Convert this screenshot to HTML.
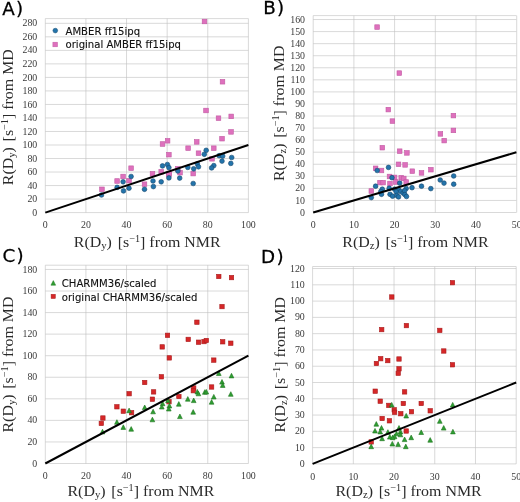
<!DOCTYPE html>
<html><head><meta charset="utf-8"><title>Figure</title>
<style>
html,body{margin:0;padding:0;background:#fff}
svg{display:block}
.tk{font-family:"Liberation Serif","DejaVu Serif",serif;font-size:9.9px;fill:#3a3a3a}
.al{font-family:"Liberation Serif","DejaVu Serif",serif;font-size:14.8px;fill:#2a2a2a}
.sub{font-size:10px}
.sup{font-size:9.5px}
.pl{font-family:"DejaVu Sans","Liberation Sans",sans-serif;font-size:18.3px;fill:#000;stroke:#000;stroke-width:0.28px;letter-spacing:1.3px}
.lg{font-family:"DejaVu Sans","Liberation Sans",sans-serif;font-size:10.1px;fill:#111;stroke:#111;stroke-width:0.12px}
</style></head><body>
<svg width="520" height="502" viewBox="0 0 520 502">
<rect width="520" height="502" fill="#fff"/>
<path d="M45.3 212.60H248.4M45.3 199.08H248.4M45.3 185.56H248.4M45.3 172.04H248.4M45.3 158.52H248.4M45.3 145.00H248.4M45.3 131.48H248.4M45.3 117.96H248.4M45.3 104.44H248.4M45.3 90.92H248.4M45.3 77.40H248.4M45.3 63.88H248.4M45.3 50.36H248.4M45.3 36.84H248.4M45.3 23.32H248.4M45.30 18.6V212.6M85.92 18.6V212.6M126.54 18.6V212.6M167.16 18.6V212.6M207.78 18.6V212.6M248.40 18.6V212.6M45.3 18.6H248.4" stroke="#c0c0c0" stroke-width="0.6" fill="none"/>
<g class="tk" text-anchor="end">
<text x="37.3" y="215.70">0</text>
<text x="37.3" y="202.18">20</text>
<text x="37.3" y="188.66">40</text>
<text x="37.3" y="175.14">60</text>
<text x="37.3" y="161.62">80</text>
<text x="37.3" y="148.10">100</text>
<text x="37.3" y="134.58">120</text>
<text x="37.3" y="121.06">140</text>
<text x="37.3" y="107.54">160</text>
<text x="37.3" y="94.02">180</text>
<text x="37.3" y="80.50">200</text>
<text x="37.3" y="66.98">220</text>
<text x="37.3" y="53.46">240</text>
<text x="37.3" y="39.94">260</text>
<text x="37.3" y="26.42">280</text>
</g>
<g class="tk" text-anchor="middle">
<text x="45.30" y="227.90">0</text>
<text x="85.92" y="227.90">20</text>
<text x="126.54" y="227.90">40</text>
<text x="167.16" y="227.90">60</text>
<text x="207.78" y="227.90">80</text>
<text x="248.40" y="227.90">100</text>
</g>
<g fill="#de70bd" stroke="#c25aa2" stroke-width="0.6">
<rect x="99.65" y="187.00" width="4.6" height="4.6"/>
<rect x="114.80" y="178.70" width="4.6" height="4.6"/>
<rect x="120.80" y="174.20" width="4.6" height="4.6"/>
<rect x="126.70" y="178.40" width="4.6" height="4.6"/>
<rect x="128.80" y="165.90" width="4.6" height="4.6"/>
<rect x="142.20" y="181.90" width="4.6" height="4.6"/>
<rect x="150.20" y="171.50" width="4.6" height="4.6"/>
<rect x="158.90" y="169.50" width="4.6" height="4.6"/>
<rect x="160.20" y="141.70" width="4.6" height="4.6"/>
<rect x="165.30" y="138.50" width="4.6" height="4.6"/>
<rect x="166.60" y="152.40" width="4.6" height="4.6"/>
<rect x="166.60" y="172.30" width="4.6" height="4.6"/>
<rect x="202.20" y="19.20" width="4.6" height="4.6"/>
<rect x="220.20" y="79.45" width="4.6" height="4.6"/>
<rect x="203.70" y="108.20" width="4.6" height="4.6"/>
<rect x="216.20" y="115.90" width="4.6" height="4.6"/>
<rect x="228.90" y="114.10" width="4.6" height="4.6"/>
<rect x="228.70" y="129.60" width="4.6" height="4.6"/>
<rect x="219.70" y="136.40" width="4.6" height="4.6"/>
<rect x="194.45" y="139.60" width="4.6" height="4.6"/>
<rect x="185.80" y="145.90" width="4.6" height="4.6"/>
<rect x="211.50" y="145.90" width="4.6" height="4.6"/>
<rect x="196.20" y="150.90" width="4.6" height="4.6"/>
<rect x="209.70" y="156.50" width="4.6" height="4.6"/>
<rect x="175.60" y="166.50" width="4.6" height="4.6"/>
<rect x="177.70" y="170.40" width="4.6" height="4.6"/>
<rect x="190.90" y="171.30" width="4.6" height="4.6"/>
<rect x="166.70" y="171.30" width="4.6" height="4.6"/>
</g>
<g fill="#2374ab" stroke="#15486f" stroke-width="0.6">
<circle cx="101.5" cy="195.0" r="2.35"/>
<circle cx="117.1" cy="187.4" r="2.35"/>
<circle cx="123.1" cy="181.8" r="2.35"/>
<circle cx="123.5" cy="190.9" r="2.35"/>
<circle cx="129.0" cy="188.2" r="2.35"/>
<circle cx="131.1" cy="176.5" r="2.35"/>
<circle cx="144.5" cy="189.3" r="2.35"/>
<circle cx="153.0" cy="181.0" r="2.35"/>
<circle cx="153.4" cy="186.6" r="2.35"/>
<circle cx="161.2" cy="181.8" r="2.35"/>
<circle cx="162.5" cy="165.9" r="2.35"/>
<circle cx="167.4" cy="164.5" r="2.35"/>
<circle cx="168.9" cy="167.6" r="2.35"/>
<circle cx="168.9" cy="177.9" r="2.35"/>
<circle cx="206.2" cy="150.3" r="2.35"/>
<circle cx="204.3" cy="154.3" r="2.35"/>
<circle cx="219.2" cy="155.7" r="2.35"/>
<circle cx="222.7" cy="156.1" r="2.35"/>
<circle cx="231.7" cy="157.5" r="2.35"/>
<circle cx="222.0" cy="161.1" r="2.35"/>
<circle cx="230.8" cy="163.4" r="2.35"/>
<circle cx="213.8" cy="165.6" r="2.35"/>
<circle cx="211.6" cy="167.9" r="2.35"/>
<circle cx="197.3" cy="163.8" r="2.35"/>
<circle cx="198.5" cy="166.8" r="2.35"/>
<circle cx="193.7" cy="168.8" r="2.35"/>
<circle cx="187.8" cy="167.4" r="2.35"/>
<circle cx="177.9" cy="171.0" r="2.35"/>
<circle cx="179.7" cy="178.1" r="2.35"/>
<circle cx="193.2" cy="183.5" r="2.35"/>
</g>
<path d="M45.3 212.6L248.4 145.0" stroke="#000" stroke-width="2" fill="none"/>
<text class="pl" x="2.3" y="14.5">A)</text>
<text class="al" transform="translate(147.2 246.9) scale(1.078 1)" text-anchor="middle">R(D<tspan class="sub" dy="2.2">y</tspan><tspan dy="-2.2">)</tspan><tspan dx="1.6"> </tspan>[s<tspan class="sup" dy="-5">−1</tspan><tspan dy="5">]</tspan> from NMR</text>
<text class="al" transform="translate(12.7 117.2) rotate(-90) scale(1.076 1)" text-anchor="middle">R(D<tspan class="sub" dy="2.2">y</tspan><tspan dy="-2.2">)</tspan><tspan dx="1.6"> </tspan>[s<tspan class="sup" dy="-5">−1</tspan><tspan dy="5">]</tspan> from MD</text>
<circle cx="55.3" cy="30.6" r="2.35" fill="#2374ab" stroke="#15486f" stroke-width="0.5"/>
<rect x="52.9" y="42.2" width="4.6" height="4.6" fill="#de70bd" stroke="#c25aa2" stroke-width="0.5"/>
<text class="lg" x="65.5" y="34.7">AMBER ff15ipq</text>
<text class="lg" x="65.5" y="48.4">original AMBER ff15ipq</text>
<path d="M313.2 212.50H516.4M313.2 200.44H516.4M313.2 188.38H516.4M313.2 176.32H516.4M313.2 164.26H516.4M313.2 152.20H516.4M313.2 140.14H516.4M313.2 128.08H516.4M313.2 116.02H516.4M313.2 103.96H516.4M313.2 91.90H516.4M313.2 79.84H516.4M313.2 67.78H516.4M313.2 55.72H516.4M313.2 43.66H516.4M313.2 31.60H516.4M313.2 19.54H516.4M313.20 15.6V212.5M353.90 15.6V212.5M394.60 15.6V212.5M435.30 15.6V212.5M476.00 15.6V212.5M516.70 15.6V212.5M313.2 15.6H516.4" stroke="#c0c0c0" stroke-width="0.6" fill="none"/>
<g class="tk" text-anchor="end">
<text x="305.0" y="215.60">0</text>
<text x="305.0" y="203.54">10</text>
<text x="305.0" y="191.48">20</text>
<text x="305.0" y="179.42">30</text>
<text x="305.0" y="167.36">40</text>
<text x="305.0" y="155.30">50</text>
<text x="305.0" y="143.24">60</text>
<text x="305.0" y="131.18">70</text>
<text x="305.0" y="119.12">80</text>
<text x="305.0" y="107.06">90</text>
<text x="305.0" y="95.00">100</text>
<text x="305.0" y="82.94">110</text>
<text x="305.0" y="70.88">120</text>
<text x="305.0" y="58.82">130</text>
<text x="305.0" y="46.76">140</text>
<text x="305.0" y="34.70">150</text>
<text x="305.0" y="22.64">160</text>
</g>
<g class="tk" text-anchor="middle">
<text x="313.20" y="227.80">0</text>
<text x="353.90" y="227.80">10</text>
<text x="394.60" y="227.80">20</text>
<text x="435.30" y="227.80">30</text>
<text x="476.00" y="227.80">40</text>
<text x="516.70" y="227.80">50</text>
</g>
<g fill="#de70bd" stroke="#c25aa2" stroke-width="0.6">
<rect x="397.40" y="148.90" width="4.6" height="4.6"/>
<rect x="404.60" y="150.60" width="4.6" height="4.6"/>
<rect x="396.20" y="162.00" width="4.6" height="4.6"/>
<rect x="402.80" y="162.60" width="4.6" height="4.6"/>
<rect x="373.30" y="166.00" width="4.6" height="4.6"/>
<rect x="379.20" y="168.20" width="4.6" height="4.6"/>
<rect x="410.00" y="168.90" width="4.6" height="4.6"/>
<rect x="419.20" y="170.60" width="4.6" height="4.6"/>
<rect x="428.60" y="167.40" width="4.6" height="4.6"/>
<rect x="387.20" y="174.20" width="4.6" height="4.6"/>
<rect x="392.30" y="175.10" width="4.6" height="4.6"/>
<rect x="398.90" y="175.40" width="4.6" height="4.6"/>
<rect x="401.50" y="176.20" width="4.6" height="4.6"/>
<rect x="377.70" y="180.30" width="4.6" height="4.6"/>
<rect x="380.80" y="180.30" width="4.6" height="4.6"/>
<rect x="387.70" y="181.20" width="4.6" height="4.6"/>
<rect x="393.40" y="179.70" width="4.6" height="4.6"/>
<rect x="403.90" y="179.70" width="4.6" height="4.6"/>
<rect x="369.00" y="188.70" width="4.6" height="4.6"/>
<rect x="374.80" y="24.80" width="4.6" height="4.6"/>
<rect x="397.00" y="70.80" width="4.6" height="4.6"/>
<rect x="386.00" y="107.30" width="4.6" height="4.6"/>
<rect x="390.10" y="118.80" width="4.6" height="4.6"/>
<rect x="451.10" y="113.30" width="4.6" height="4.6"/>
<rect x="451.10" y="128.10" width="4.6" height="4.6"/>
<rect x="438.10" y="131.60" width="4.6" height="4.6"/>
<rect x="441.90" y="138.30" width="4.6" height="4.6"/>
<rect x="380.00" y="145.40" width="4.6" height="4.6"/>
</g>
<g fill="#2374ab" stroke="#15486f" stroke-width="0.6">
<circle cx="388.5" cy="167.4" r="2.35"/>
<circle cx="377.2" cy="170.5" r="2.35"/>
<circle cx="392.0" cy="177.7" r="2.35"/>
<circle cx="399.7" cy="183.1" r="2.35"/>
<circle cx="375.6" cy="186.2" r="2.35"/>
<circle cx="382.3" cy="189.2" r="2.35"/>
<circle cx="389.2" cy="188.2" r="2.35"/>
<circle cx="394.6" cy="189.2" r="2.35"/>
<circle cx="398.5" cy="189.7" r="2.35"/>
<circle cx="406.2" cy="188.5" r="2.35"/>
<circle cx="412.0" cy="187.7" r="2.35"/>
<circle cx="421.5" cy="186.2" r="2.35"/>
<circle cx="430.8" cy="188.6" r="2.35"/>
<circle cx="440.2" cy="180.0" r="2.35"/>
<circle cx="380.8" cy="191.5" r="2.35"/>
<circle cx="381.5" cy="194.3" r="2.35"/>
<circle cx="371.3" cy="197.6" r="2.35"/>
<circle cx="390.0" cy="194.3" r="2.35"/>
<circle cx="392.6" cy="196.2" r="2.35"/>
<circle cx="396.2" cy="191.8" r="2.35"/>
<circle cx="396.9" cy="195.4" r="2.35"/>
<circle cx="398.5" cy="196.9" r="2.35"/>
<circle cx="400.8" cy="191.5" r="2.35"/>
<circle cx="403.1" cy="193.1" r="2.35"/>
<circle cx="404.6" cy="190.8" r="2.35"/>
<circle cx="404.9" cy="194.6" r="2.35"/>
<circle cx="406.5" cy="196.5" r="2.35"/>
<circle cx="453.7" cy="176.0" r="2.35"/>
<circle cx="453.7" cy="184.2" r="2.35"/>
<circle cx="444.0" cy="183.1" r="2.35"/>
</g>
<path d="M313.2 212.5L516.4 152.2" stroke="#000" stroke-width="2" fill="none"/>
<text class="pl" x="263.2" y="14.3">B)</text>
<text class="al" transform="translate(415.4 247.2) scale(1.078 1)" text-anchor="middle">R(D<tspan class="sub" dy="2.2">z</tspan><tspan dy="-2.2">)</tspan><tspan dx="1.6"> </tspan>[s<tspan class="sup" dy="-5">−1</tspan><tspan dy="5">]</tspan> from NMR</text>
<text class="al" transform="translate(283.8 113.3) rotate(-90) scale(1.076 1)" text-anchor="middle">R(D<tspan class="sub" dy="2.2">z</tspan><tspan dy="-2.2">)</tspan><tspan dx="1.6"> </tspan>[s<tspan class="sup" dy="-5">−1</tspan><tspan dy="5">]</tspan> from MD</text>
<path d="M45.3 463.50H248.4M45.3 441.94H248.4M45.3 420.38H248.4M45.3 398.82H248.4M45.3 377.26H248.4M45.3 355.70H248.4M45.3 334.14H248.4M45.3 312.58H248.4M45.3 291.02H248.4M45.3 269.46H248.4M45.30 265.2V463.5M85.92 265.2V463.5M126.54 265.2V463.5M167.16 265.2V463.5M207.78 265.2V463.5M248.40 265.2V463.5M45.3 265.2H248.4" stroke="#c0c0c0" stroke-width="0.6" fill="none"/>
<g class="tk" text-anchor="end">
<text x="37.3" y="466.60">0</text>
<text x="37.3" y="445.04">20</text>
<text x="37.3" y="423.48">40</text>
<text x="37.3" y="401.92">60</text>
<text x="37.3" y="380.36">80</text>
<text x="37.3" y="358.80">100</text>
<text x="37.3" y="337.24">120</text>
<text x="37.3" y="315.68">140</text>
<text x="37.3" y="294.12">160</text>
<text x="37.3" y="272.56">180</text>
</g>
<g class="tk" text-anchor="middle">
<text x="45.30" y="478.80">0</text>
<text x="85.92" y="478.80">20</text>
<text x="126.54" y="478.80">40</text>
<text x="167.16" y="478.80">60</text>
<text x="207.78" y="478.80">80</text>
<text x="248.40" y="478.80">100</text>
</g>
<g fill="#d62728" stroke="#a81c1d" stroke-width="0.6">
<rect x="159.20" y="374.60" width="4.4" height="4.4"/>
<rect x="142.50" y="380.30" width="4.4" height="4.4"/>
<rect x="126.90" y="391.50" width="4.4" height="4.4"/>
<rect x="151.40" y="389.70" width="4.4" height="4.4"/>
<rect x="150.20" y="397.00" width="4.4" height="4.4"/>
<rect x="176.70" y="394.30" width="4.4" height="4.4"/>
<rect x="166.80" y="399.50" width="4.4" height="4.4"/>
<rect x="114.70" y="404.60" width="4.4" height="4.4"/>
<rect x="121.10" y="409.00" width="4.4" height="4.4"/>
<rect x="129.40" y="410.50" width="4.4" height="4.4"/>
<rect x="100.70" y="415.80" width="4.4" height="4.4"/>
<rect x="99.10" y="421.20" width="4.4" height="4.4"/>
<rect x="186.00" y="337.20" width="4.4" height="4.4"/>
<rect x="196.30" y="340.00" width="4.4" height="4.4"/>
<rect x="201.80" y="339.40" width="4.4" height="4.4"/>
<rect x="204.10" y="338.30" width="4.4" height="4.4"/>
<rect x="220.50" y="339.60" width="4.4" height="4.4"/>
<rect x="228.60" y="341.00" width="4.4" height="4.4"/>
<rect x="160.00" y="344.70" width="4.4" height="4.4"/>
<rect x="167.10" y="355.70" width="4.4" height="4.4"/>
<rect x="211.60" y="357.90" width="4.4" height="4.4"/>
<rect x="209.40" y="384.80" width="4.4" height="4.4"/>
<rect x="191.50" y="385.80" width="4.4" height="4.4"/>
<rect x="191.10" y="388.50" width="4.4" height="4.4"/>
<rect x="216.60" y="274.30" width="4.4" height="4.4"/>
<rect x="229.30" y="275.40" width="4.4" height="4.4"/>
<rect x="219.80" y="304.40" width="4.4" height="4.4"/>
<rect x="194.70" y="320.00" width="4.4" height="4.4"/>
<rect x="165.30" y="333.10" width="4.4" height="4.4"/>
</g>
<g fill="#2f9e33" stroke="#1f741f" stroke-width="0.6">
<path d="M129.1 408.1l2.35 4.6h-4.7z"/>
<path d="M144.7 405.0l2.35 4.6h-4.7z"/>
<path d="M153.1 409.2l2.35 4.6h-4.7z"/>
<path d="M152.4 417.2l2.35 4.6h-4.7z"/>
<path d="M162.6 401.1l2.35 4.6h-4.7z"/>
<path d="M161.8 404.4l2.35 4.6h-4.7z"/>
<path d="M168.0 397.9l2.35 4.6h-4.7z"/>
<path d="M169.4 403.3l2.35 4.6h-4.7z"/>
<path d="M168.8 406.4l2.35 4.6h-4.7z"/>
<path d="M178.8 401.6l2.35 4.6h-4.7z"/>
<path d="M179.9 414.0l2.35 4.6h-4.7z"/>
<path d="M116.9 419.7l2.35 4.6h-4.7z"/>
<path d="M123.3 424.8l2.35 4.6h-4.7z"/>
<path d="M131.2 426.6l2.35 4.6h-4.7z"/>
<path d="M102.5 429.3l2.35 4.6h-4.7z"/>
<path d="M218.8 370.9l2.35 4.6h-4.7z"/>
<path d="M231.5 373.3l2.35 4.6h-4.7z"/>
<path d="M222.0 379.5l2.35 4.6h-4.7z"/>
<path d="M222.7 382.8l2.35 4.6h-4.7z"/>
<path d="M230.8 391.7l2.35 4.6h-4.7z"/>
<path d="M204.8 389.7l2.35 4.6h-4.7z"/>
<path d="M206.3 389.4l2.35 4.6h-4.7z"/>
<path d="M197.3 389.4l2.35 4.6h-4.7z"/>
<path d="M198.4 391.2l2.35 4.6h-4.7z"/>
<path d="M213.8 394.4l2.35 4.6h-4.7z"/>
<path d="M211.6 399.6l2.35 4.6h-4.7z"/>
<path d="M187.8 396.6l2.35 4.6h-4.7z"/>
<path d="M193.7 398.0l2.35 4.6h-4.7z"/>
<path d="M193.2 409.6l2.35 4.6h-4.7z"/>
</g>
<path d="M45.3 463.5L248.4 355.7" stroke="#000" stroke-width="2" fill="none"/>
<text class="pl" x="2.5" y="262.4">C)</text>
<text class="al" transform="translate(140.9 495.9) scale(1.078 1)" text-anchor="middle">R(D<tspan class="sub" dy="2.2">y</tspan><tspan dy="-2.2">)</tspan><tspan dx="1.6"> </tspan>[s<tspan class="sup" dy="-5">−1</tspan><tspan dy="5">]</tspan> from NMR</text>
<text class="al" transform="translate(12.7 364.5) rotate(-90) scale(1.076 1)" text-anchor="middle">R(D<tspan class="sub" dy="2.2">y</tspan><tspan dy="-2.2">)</tspan><tspan dx="1.6"> </tspan>[s<tspan class="sup" dy="-5">−1</tspan><tspan dy="5">]</tspan> from MD</text>
<path d="M53.3 280.6l2.35 4.6h-4.7z" fill="#2f9e33" stroke="#1f741f" stroke-width="0.5"/>
<rect x="51.1" y="294.3" width="4.2" height="4.2" fill="#d62728" stroke="#a81c1d" stroke-width="0.5"/>
<text class="lg" x="61.8" y="286.8">CHARMM36/scaled</text>
<text class="lg" x="61.8" y="300.8">original CHARMM36/scaled</text>
<path d="M312.6 463.90H516.2M312.6 447.62H516.2M312.6 431.34H516.2M312.6 415.06H516.2M312.6 398.78H516.2M312.6 382.50H516.2M312.6 366.22H516.2M312.6 349.94H516.2M312.6 333.66H516.2M312.6 317.38H516.2M312.6 301.10H516.2M312.6 284.82H516.2M312.6 268.54H516.2M312.60 266.5V463.9M353.32 266.5V463.9M394.04 266.5V463.9M434.76 266.5V463.9M475.48 266.5V463.9M516.20 266.5V463.9M312.6 266.5H516.2" stroke="#c0c0c0" stroke-width="0.6" fill="none"/>
<g class="tk" text-anchor="end">
<text x="304.8" y="467.00">0</text>
<text x="304.8" y="450.72">10</text>
<text x="304.8" y="434.44">20</text>
<text x="304.8" y="418.16">30</text>
<text x="304.8" y="401.88">40</text>
<text x="304.8" y="385.60">50</text>
<text x="304.8" y="369.32">60</text>
<text x="304.8" y="353.04">70</text>
<text x="304.8" y="336.76">80</text>
<text x="304.8" y="320.48">90</text>
<text x="304.8" y="304.20">100</text>
<text x="304.8" y="287.92">110</text>
<text x="304.8" y="271.64">120</text>
</g>
<g class="tk" text-anchor="middle">
<text x="312.60" y="479.80">0</text>
<text x="353.32" y="479.80">10</text>
<text x="394.04" y="479.80">20</text>
<text x="434.76" y="479.80">30</text>
<text x="475.48" y="479.80">40</text>
<text x="516.20" y="479.80">50</text>
</g>
<g fill="#d62728" stroke="#a81c1d" stroke-width="0.6">
<rect x="373.00" y="389.00" width="4.4" height="4.4"/>
<rect x="402.40" y="389.70" width="4.4" height="4.4"/>
<rect x="378.00" y="399.00" width="4.4" height="4.4"/>
<rect x="386.60" y="403.20" width="4.4" height="4.4"/>
<rect x="401.10" y="401.30" width="4.4" height="4.4"/>
<rect x="419.00" y="401.30" width="4.4" height="4.4"/>
<rect x="392.00" y="407.60" width="4.4" height="4.4"/>
<rect x="392.40" y="410.10" width="4.4" height="4.4"/>
<rect x="398.60" y="411.50" width="4.4" height="4.4"/>
<rect x="409.30" y="409.50" width="4.4" height="4.4"/>
<rect x="428.00" y="408.60" width="4.4" height="4.4"/>
<rect x="379.90" y="416.30" width="4.4" height="4.4"/>
<rect x="387.20" y="418.60" width="4.4" height="4.4"/>
<rect x="404.00" y="428.80" width="4.4" height="4.4"/>
<rect x="369.00" y="439.70" width="4.4" height="4.4"/>
<rect x="450.30" y="280.50" width="4.4" height="4.4"/>
<rect x="389.60" y="294.80" width="4.4" height="4.4"/>
<rect x="404.20" y="323.40" width="4.4" height="4.4"/>
<rect x="379.50" y="327.40" width="4.4" height="4.4"/>
<rect x="437.60" y="328.20" width="4.4" height="4.4"/>
<rect x="441.60" y="348.80" width="4.4" height="4.4"/>
<rect x="450.30" y="362.60" width="4.4" height="4.4"/>
<rect x="378.50" y="356.50" width="4.4" height="4.4"/>
<rect x="385.60" y="358.40" width="4.4" height="4.4"/>
<rect x="396.80" y="356.80" width="4.4" height="4.4"/>
<rect x="374.20" y="361.30" width="4.4" height="4.4"/>
<rect x="396.80" y="366.60" width="4.4" height="4.4"/>
<rect x="396.00" y="371.10" width="4.4" height="4.4"/>
</g>
<g fill="#2f9e33" stroke="#1f741f" stroke-width="0.6">
<path d="M391.7 402.4l2.35 4.6h-4.7z"/>
<path d="M406.2 413.4l2.35 4.6h-4.7z"/>
<path d="M452.7 402.4l2.35 4.6h-4.7z"/>
<path d="M439.8 418.7l2.35 4.6h-4.7z"/>
<path d="M443.7 425.5l2.35 4.6h-4.7z"/>
<path d="M452.9 429.3l2.35 4.6h-4.7z"/>
<path d="M421.2 429.9l2.35 4.6h-4.7z"/>
<path d="M430.2 437.6l2.35 4.6h-4.7z"/>
<path d="M376.3 421.6l2.35 4.6h-4.7z"/>
<path d="M381.5 425.5l2.35 4.6h-4.7z"/>
<path d="M375.0 428.4l2.35 4.6h-4.7z"/>
<path d="M380.2 429.3l2.35 4.6h-4.7z"/>
<path d="M387.9 429.7l2.35 4.6h-4.7z"/>
<path d="M399.0 425.5l2.35 4.6h-4.7z"/>
<path d="M400.4 429.3l2.35 4.6h-4.7z"/>
<path d="M396.5 431.2l2.35 4.6h-4.7z"/>
<path d="M400.4 432.2l2.35 4.6h-4.7z"/>
<path d="M394.6 434.1l2.35 4.6h-4.7z"/>
<path d="M389.8 434.5l2.35 4.6h-4.7z"/>
<path d="M392.7 435.1l2.35 4.6h-4.7z"/>
<path d="M382.1 436.1l2.35 4.6h-4.7z"/>
<path d="M404.6 437.0l2.35 4.6h-4.7z"/>
<path d="M411.2 435.1l2.35 4.6h-4.7z"/>
<path d="M392.3 441.4l2.35 4.6h-4.7z"/>
<path d="M398.1 441.8l2.35 4.6h-4.7z"/>
<path d="M405.8 444.1l2.35 4.6h-4.7z"/>
<path d="M371.2 444.1l2.35 4.6h-4.7z"/>
</g>
<path d="M312.6 463.9L516.2 382.5" stroke="#000" stroke-width="2" fill="none"/>
<text class="pl" x="261" y="262.8">D)</text>
<text class="al" transform="translate(408.6 495.8) scale(1.078 1)" text-anchor="middle">R(D<tspan class="sub" dy="2.2">z</tspan><tspan dy="-2.2">)</tspan><tspan dx="1.6"> </tspan>[s<tspan class="sup" dy="-5">−1</tspan><tspan dy="5">]</tspan> from NMR</text>
<text class="al" transform="translate(284.5 364.7) rotate(-90) scale(1.076 1)" text-anchor="middle">R(D<tspan class="sub" dy="2.2">z</tspan><tspan dy="-2.2">)</tspan><tspan dx="1.6"> </tspan>[s<tspan class="sup" dy="-5">−1</tspan><tspan dy="5">]</tspan> from MD</text>
</svg></body></html>
